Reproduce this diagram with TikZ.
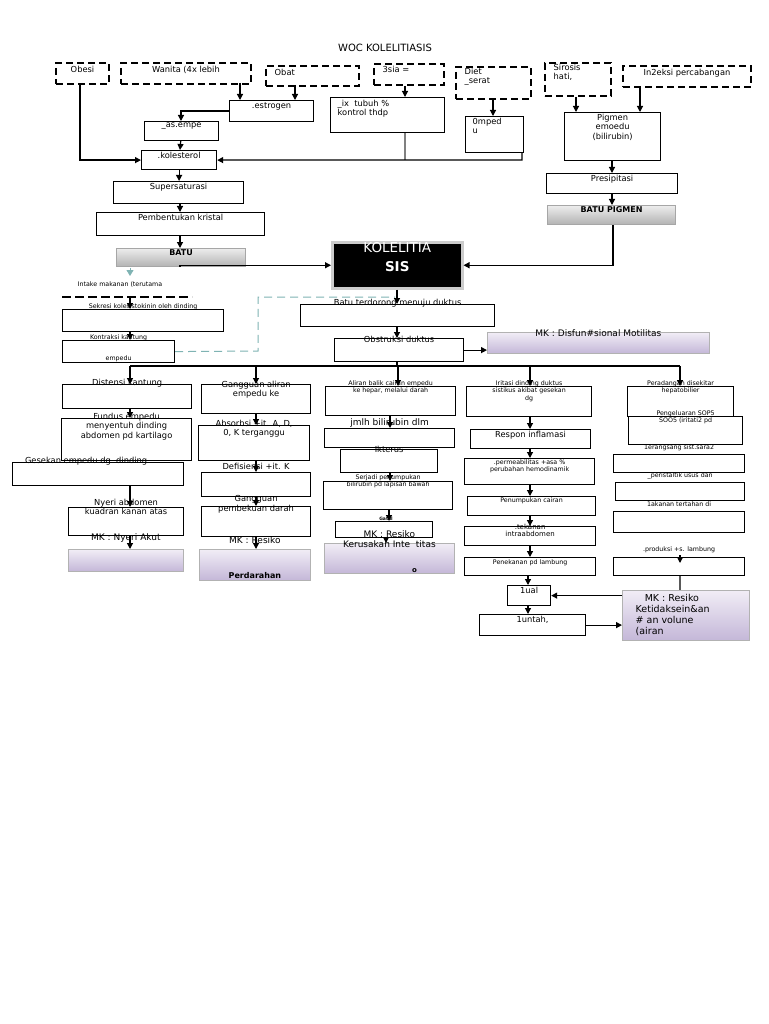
\documentclass[tikz,border=0pt]{standalone}
\usepackage{fontspec}
\setmainfont{DejaVu Sans}
\usetikzlibrary{arrows.meta}
\definecolor{lavA}{HTML}{F1EDF6}
\definecolor{lavB}{HTML}{C4B7D8}
\definecolor{teal1}{HTML}{7FB3B3}
\tikzset{
  box/.style={draw=black,line width=1.2pt,inner sep=0pt,anchor=north west,fill=white},
  dbox/.style={box,dash pattern=on 7pt off 4pt,line width=2pt},
  lav/.style={box,draw=gray!60,line width=0.8pt,top color=lavA,bottom color=lavB},
  gbox/.style={box,draw=gray!70,top color=gray!15,bottom color=gray!60},
  txt/.style={anchor=north,inner sep=1.5pt,align=center,font=\fontsize{8.3}{9.6}\selectfont},
  stxt/.style={txt,font=\fontsize{6.3}{7.5}\selectfont},
  arr/.style={-{Triangle[length=6pt,width=6pt]},line width=1.2pt},
  ln/.style={line width=1.2pt}
}
\newcommand\bx[6][box]{%
  \node[#1,minimum width={(#5-#3)*1pt},minimum height={(#6-#4)*1pt}] (#2) at (#3,#4) {};}
\begin{document}
\begin{tikzpicture}[x=1pt,y=-1pt]
\useasboundingbox[fill=white] (0,0) rectangle (768,1024);
\node[font=\fontsize{10}{11}\selectfont] (title) at (385,48) {WOC KOLELITIASIS};
% top dashed
\bx[dbox]{obesi}{55}{62}{108}{83}\node[txt] at ([yshift=-2pt]obesi.north) {Obesi};
\bx[dbox]{wanita}{120}{62}{250}{83}\node[txt] at ([yshift=-2pt]wanita.north) {Wanita (4x lebih};
\bx[dbox]{obat}{265}{65}{358}{85}\node[txt,anchor=north west] at ([xshift=8pt,yshift=-2pt]obat.north west) {Obat};
\bx[dbox]{tiga}{373}{63}{443}{84}\node[txt,anchor=north west] at ([xshift=8pt,yshift=-1pt]tiga.north west) {3sia =};
\bx[dbox]{diet}{455}{66}{530}{98}\node[txt,anchor=north west,align=left] at ([xshift=8pt]diet.north west) {Diet\\\_serat};
\bx[dbox]{sirosis}{544}{62}{610}{95}\node[txt,anchor=north west,align=left] at ([xshift=8pt]sirosis.north west) {Sirosis\\hati,};
\bx[dbox]{infeksi}{622}{65}{750}{86}\node[txt] at ([yshift=-2pt]infeksi.north) {In2eksi percabangan};
% solid
\bx{estrogen}{229}{100}{313}{121}\node[txt] at ([yshift=-1pt]estrogen.north) {.estrogen};
\bx{kontrol}{330}{97}{444}{132}\node[txt,anchor=north west,align=left] at ([xshift=6pt,yshift=-1pt]kontrol.north west) {\_ix\ \ tubuh \%\\kontrol thdp};
\bx{ompedu}{465}{116}{523}{152}\node[txt,anchor=north west,align=left] at ([xshift=6pt]ompedu.north west) {0mped\\u};
\bx{pigmen}{564}{112}{660}{160}\node[txt] at (pigmen.north) {Pigmen\\emoedu\\(bilirubin)};
\bx{asempe}{144}{121}{218}{140}\node[txt] at (asempe.north) {\_as.empe};
\bx{kolesterol}{141}{150}{216}{169}\node[txt] at (kolesterol.north) {.kolesterol};
\bx{supersat}{113}{181}{243}{203}\node[txt] at (supersat.north) {Supersaturasi};
\bx{kristal}{96}{212}{264}{235}\node[txt] at (kristal.north) {Pembentukan kristal};
\bx[gbox]{batu}{116}{248}{245}{266}\node[txt,font=\bfseries\fontsize{8}{9}\selectfont] at (batu.north) {BATU};
\bx{presip}{546}{173}{677}{193}\node[txt] at (presip.north) {Presipitasi};
\bx[gbox]{batupig}{547}{205}{675}{224}\node[txt,font=\bfseries\fontsize{8}{9}\selectfont] at (batupig.north) {BATU PIGMEN};
\bx[box,fill=black,draw=gray!40,line width=2.5pt]{kolel}{331}{241}{461}{287}
\node[anchor=north,text=white,align=center,font=\fontsize{13.5}{19}\selectfont,inner sep=1pt] at (kolel.north) {KOLELITIA\\\textbf{SIS}};
\node[stxt] (intake) at (120,280) {Intake makanan (terutama};
\draw[line width=1.8pt,dash pattern=on 9pt off 4pt] (62,297) -- (192,297);
\bx{sekresi}{62}{309}{223}{331}\node[stxt] at ([yshift=7pt]sekresi.north) {Sekresi kolesistokinin oleh dinding};
\bx{kontraksi}{62}{340}{174}{362}\node[stxt] at ([yshift=7pt]kontraksi.north) {Kontraksi kantung};
\node[stxt,anchor=south] at (kontraksi.south) {empedu};
\draw[teal1,line width=1pt,dash pattern=on 8pt off 5pt] (kontraksi.east) -- (258,351) -- (258,297) -- (395,297);
\bx{batuter}{300}{304}{494}{326}\node[txt] at ([yshift=7pt]batuter.north) {Batu terdorong menuju duktus};
\bx{obstr}{334}{338}{463}{361}\node[txt] at ([yshift=4pt]obstr.north) {Obstruksi duktus};
\bx[lav]{mkdis}{487}{332}{709}{353}\node[txt,font=\fontsize{9}{10}\selectfont] at ([yshift=4pt]mkdis.north) {MK : Disfun\#sional Motilitas};
% column 1
\bx{distensi}{62}{384}{191}{408}\node[txt] at ([yshift=7pt]distensi.north) {Distensi kantung};
\bx{fundus}{61}{418}{191}{460}\node[txt] at ([yshift=7pt]fundus.north) {Fundus empedu\\menyentuh dinding\\abdomen pd kartilago};
\bx{gesekan}{12}{462}{183}{485}\node[txt] at ([yshift=7pt,xshift=-12pt]gesekan.north) {Gesekan empedu dg\ \ dinding};
\bx{nyeri}{68}{507}{183}{535}\node[txt] at ([yshift=10pt]nyeri.north) {Nyeri abdomen\\kuadran kanan atas};
\bx[lav]{mknyeri}{68}{549}{183}{571}\node[txt,font=\fontsize{9}{10}\selectfont] at ([yshift=17pt]mknyeri.north) {MK : Nyeri Akut};
% column 2
\bx{gang}{201}{384}{310}{413}\node[txt] at ([yshift=5pt]gang.north) {Gangguan aliran\\empedu ke};
\bx{absorb}{198}{425}{309}{460}\node[txt] at ([yshift=7pt]absorb.north) {Absorbsi +it. A, D,\\0, K terganggu};
\bx{defis}{201}{472}{310}{496}\node[txt] at ([yshift=11pt]defis.north) {Defisiensi +it. K};
\bx{bekuan}{201}{506}{310}{536}\node[txt] at ([yshift=12pt]bekuan.north) {Gangguan\\pembekuan darah};
\bx[lav]{mkperd}{199}{549}{310}{580}\node[txt,font=\fontsize{9}{10}\selectfont] at ([yshift=14pt]mkperd.north) {MK : Resiko};
\node[txt,anchor=south,font=\bfseries\fontsize{8}{9}\selectfont] at (mkperd.south) {Perdarahan};
% column 3
\bx{aliran}{325}{386}{455}{415}\node[stxt] at ([yshift=7pt]aliran.north) {Aliran balik cairan empedu\\ke hepar, melalui darah};
\bx{jmlh}{324}{428}{454}{447}\node[txt,font=\fontsize{9}{10}\selectfont] at ([yshift=11pt]jmlh.north) {jmlh bilirubin dlm};
\bx{ikterus}{340}{449}{437}{472}\node[txt] at ([yshift=5pt]ikterus.north) {Ikterus};
\bx{serjadi}{323}{481}{452}{509}\node[stxt] at ([yshift=8pt]serjadi.north) {Serjadi penumpukan\\bilirubin pd lapisan bawah};
\node[stxt,font=\bfseries\fontsize{4.5}{5}\selectfont] (gatal) at (386,515) {Gatal};
\bx{mkres}{335}{521}{432}{537}
\bx[lav]{mkkeru}{324}{543}{454}{573}\node[txt,font=\fontsize{9}{10}\selectfont] at ([yshift=14pt]mkkeru.north) {MK : Resiko\\Kerusakan Inte\ \ titas};
\node[txt,anchor=south,font=\bfseries\fontsize{7}{8}\selectfont] at ([xshift=25pt]mkkeru.south) {o};
% column 4
\bx{iritasi}{466}{386}{591}{416}\node[stxt] at ([yshift=7pt]iritasi.north) {Iritasi dinding duktus\\sistikus akibat gesekan\\dg};
\bx{respon}{470}{429}{590}{448}\node[txt] at (respon.north) {Respon inflamasi};
\bx{permea}{464}{458}{594}{484}\node[stxt] at (permea.north) {.permeabilitas +asa \%\\perubahan hemodinamik};
\bx{penum}{467}{496}{595}{515}\node[stxt] at (penum.north) {Penumpukan cairan};
\bx{tekanan}{464}{526}{595}{545}\node[stxt,font=\fontsize{7}{7.5}\selectfont] at ([yshift=4pt]tekanan.north) {.tekanan\\intraabdomen};
\bx{penek}{464}{557}{595}{575}\node[stxt] at ([yshift=-1pt]penek.north) {Penekanan pd lambung};
\bx{mual}{507}{585}{550}{605}\node[txt] at (mual.north) {1ual};
\bx{muntah}{479}{614}{585}{635}\node[txt] at (muntah.north) {1untah,};
\bx[lav]{mkket}{622}{590}{749}{640}\node[txt,anchor=north west,align=left,font=\fontsize{9.5}{11}\selectfont] at ([xshift=12pt,yshift=-3pt]mkket.north west) {\ \ \ MK : Resiko\\Ketidaksein\&an\\\# an volune\\(airan};
% column 5
\bx{perad}{627}{386}{733}{416}\node[stxt] at ([yshift=7pt]perad.north) {Peradangan disekitar\\hepatobilier};
\bx{pengel}{628}{416}{742}{444}\node[stxt] at ([yshift=7pt]pengel.north) {Pengeluaran SOP5\\SOO5 (iritati2 pd};
\bx{rangs}{613}{454}{744}{472}\node[stxt] at ([yshift=11pt]rangs.north) {1erangsang sist.sara2};
\bx{peris}{615}{482}{744}{500}\node[stxt] at ([yshift=11pt]peris.north) {\_peristaltik\ usus\ dan};
\bx{makan}{613}{511}{744}{532}\node[stxt] at ([yshift=11pt]makan.north) {1akanan tertahan di};
\bx{produk}{613}{557}{744}{575}\node[stxt] at ([yshift=12pt]produk.north) {.produksi +s. lambung};
% arrows top
\draw[arr] (240,83) -- (estrogen.north -| 240,0);
\draw[arr] (295,85) -- (estrogen.north -| 295,0);
\draw[arr] (estrogen.west) -| (asempe.north -| 181,0);
\draw[arr] (asempe) -- (kolesterol);
\draw[arr] (obesi.south -| 80,0) |- (kolesterol.west);
\draw[arr] (tiga.south -| 405,0) -- (kontrol.north -| 405,0);
\draw[arr] (diet.south -| 493,0) -- (ompedu.north -| 493,0);
\draw[ln,gray] (kontrol.south -| 405,0) -- (405,160);
\draw[arr] (ompedu.south -| 522,0) -- (522,160) -- (kolesterol.east);
\draw[arr] (sirosis.south -| 576,0) -- (pigmen.north -| 576,0);
\draw[arr] (infeksi.south -| 640,0) -- (pigmen.north -| 640,0);
\draw[arr] (pigmen.south -| 612,0) -- (presip.north -| 612,0);
\draw[arr] (presip.south -| 612,0) -- (batupig.north -| 612,0);
\draw[arr] (batupig.south -| 613,0) |- (kolel.east);
\draw[arr] (kolesterol) -- (kolesterol|-supersat.north);
\draw[arr] (supersat.south -| 180,0) -- (kristal.north -| 180,0);
\draw[arr] (kristal.south -| 180,0) -- (batu.north -| 180,0);
\draw[arr] (batu.south -| 180,0) |- (kolel.west);
\draw[-{Triangle[length=6pt,width=7pt]},teal1,line width=0.8pt] (130,268) -- (130,276);
\draw[arr] (130,298) -- (sekresi.north -| 130,0);
\draw[arr] (sekresi.south -| 130,0) -- (kontraksi.north -| 130,0);
\draw[arr] (kolel.south -| 397,0) -- (batuter.north -| 397,0);
\draw[arr] (batuter.south -| 397,0) -- (obstr.north -| 397,0);
\draw[arr] (obstr.east) -- (mkdis.west|-obstr.east);
\coordinate (bar) at (397,366);
\draw[ln] (obstr.south -| 397,0) -- (bar);
\draw[ln] (130,366) -- (680,366);
\foreach \x/\n in {130/distensi,256/gang,398/aliran,530/iritasi,680/perad}
  \draw[arr] (\x,366) -- (\n.north -| \x,0);
\draw[arr] (distensi.south -| 130,0) -- (fundus.north -| 130,0);
\draw[arr] (gesekan.south -| 130,0) -- (nyeri.north -| 130,0);
\draw[arr] (nyeri.south -| 130,0) -- (mknyeri.north -| 130,0);
\draw[arr] (gang.south -| 256,0) -- (absorb.north -| 256,0);
\draw[arr] (absorb.south -| 256,0) -- (defis.north -| 256,0);
\draw[arr] (defis.south -| 256,0) -- (bekuan.north -| 256,0);
\draw[arr] (bekuan.south -| 256,0) -- (mkperd.north -| 256,0);
\draw[arr] (aliran.south -| 390,0) -- (jmlh.north -| 390,0);
\draw[arr] (ikterus.south -| 390,0) -- (serjadi.north -| 390,0);
\draw[arr] (serjadi.south -| 389,0) -- (mkres.north -| 389,0);
\draw[arr] (mkres.south -| 386,0) -- (mkkeru.north -| 386,0);
\draw[arr] (iritasi.south -| 530,0) -- (respon.north -| 530,0);
\draw[arr] (respon.south -| 530,0) -- (permea.north -| 530,0);
\draw[arr] (permea.south -| 530,0) -- (penum.north -| 530,0);
\draw[arr] (penum.south -| 530,0) -- (tekanan.north -| 530,0);
\draw[arr] (tekanan.south -| 530,0) -- (penek.north -| 530,0);
\draw[arr] (penek.south -| 528,0) -- (mual.north -| 528,0);
\draw[arr] (mual.south -| 528,0) -- (muntah.north -| 528,0);
\draw[arr] (mkket.west|-mual.east) -- (mual.east);
\draw[arr] (muntah.east) -- (mkket.west|-muntah.east);
\draw[ln,gray!70!black] (produk.south -| 680,0) -- (mkket.north -| 680,0);
\draw[arr] (680,555) -- (680,563);
\end{tikzpicture}
\end{document}
